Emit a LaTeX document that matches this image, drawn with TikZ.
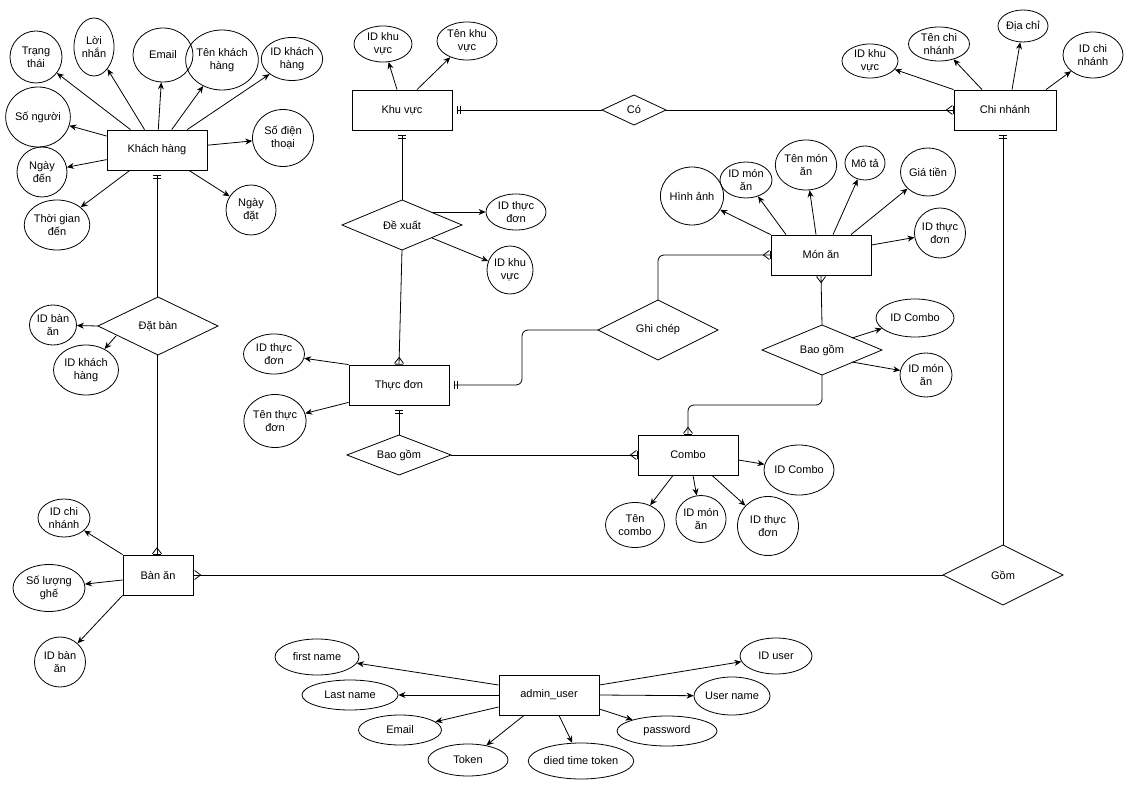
\documentclass[tikz,border=0pt]{standalone}
\usepackage{fontspec}
\setmainfont{Liberation Sans}
\usetikzlibrary{shapes.geometric,arrows.meta}
\begin{document}
\begin{tikzpicture}[x=1pt,y=-1pt,line width=0.8pt,
  every node/.style={font=\fontsize{11}{13}\selectfont,align=center,inner sep=0pt},
  ent/.style={draw,rectangle,minimum width=100pt,minimum height=40pt},
  attr/.style={draw,ellipse},
  atr/.style={-{Stealth[length=7pt,width=6pt]}},
  one/.style={-{Bar[width=8pt,sep=2pt]Bar[width=8pt,sep=5pt]}},
  many/.style={-{Straight Barb[reversed,length=6pt,width=9pt,sep=0pt]Bar[width=8pt]}},
  rc/.style={rounded corners=6pt}]
\useasboundingbox (0,0) rectangle (1135,791);
% entities
\node[ent] (kh) at (157,150) {Khách hàng};
\node[ent] (kv) at (402,110) {Khu vực};
\node[ent,minimum width=102pt] (cn) at (1005,110) {Chi nhánh};
\node[ent] (ma) at (821,255) {Món ăn};
\node[ent] (td) at (399,385) {Thực đơn};
\node[ent] (cb) at (688,455) {Combo};
\node[ent,minimum width=70pt] (ba) at (158,575) {Bàn ăn};
\node[ent] (au) at (549,695) {admin\_user};
% relationships
\node (co) at (634,110) {Có};
\draw (602,110) -- (634,95) -- (666,110) -- (634,125) -- cycle;
\coordinate (co-w) at (602,110); \coordinate (co-e) at (666,110);
\node (dx) at (402,225) {Đề xuất};
\draw (342,225) -- (402,200) -- (462,225) -- (402,250) -- cycle;
\coordinate (dx-n) at (402,200); \coordinate (dx-s) at (402,250);
\coordinate (dx-ne) at (432,212); \coordinate (dx-se) at (432,238);
\node (db) at (158,326) {Đặt bàn};
\draw (98,326) -- (158,297) -- (218,326) -- (158,355) -- cycle;
\coordinate (db-n) at (157,297); \coordinate (db-s) at (157,355); \coordinate (db-w) at (98,326);
\coordinate (db-sw) at (116,336);
\node (gc) at (658,330) {Ghi chép};
\draw (598,330) -- (658,300) -- (718,330) -- (658,360) -- cycle;
\coordinate (gc-n) at (658,300); \coordinate (gc-w) at (598,330);
\node (bg1) at (822,350) {Bao gồm};
\draw (762,350) -- (822,325) -- (882,350) -- (822,375) -- cycle;
\coordinate (bg1-n) at (822,325); \coordinate (bg1-s) at (822,375);
\coordinate (bg1-ne) at (852,338); \coordinate (bg1-se) at (852,362);
\node (bg2) at (399,455) {Bao gồm};
\draw (347,455) -- (399,435) -- (451,455) -- (399,475) -- cycle;
\coordinate (bg2-n) at (399,435); \coordinate (bg2-e) at (451,455);
\node (gm) at (1003,575) {Gồm};
\draw (943,575) -- (1003,545) -- (1063,575) -- (1003,605) -- cycle;
\coordinate (gm-n) at (1003,545); \coordinate (gm-w) at (943,575);
\coordinate (cn-s) at (1003,130); \coordinate (ba-n) at (157,555);
% attributes
\newcommand\attrn[5]{\node[attr,minimum width=#4pt,minimum height=#5pt] (#1) at (#2) {#3};}
\attrn{a1}{36,57}{Trạng\\thái}{52}{52}
\attrn{a2}{94,47}{Lời\\nhắn}{40}{58}
\attrn{a3}{163,55}{Email}{60}{54}
\attrn{a4}{222,60}{Tên khách\\hàng}{60}{60}
\attrn{a5}{292,59}{ID khách\\hàng}{61}{43}
\attrn{a6}{38,117}{Số người}{58}{60}
\attrn{a7}{283,138}{Số điện\\thoại}{61}{57}
\attrn{a8}{42,172}{Ngày\\đến}{50}{50}
\attrn{a9}{57,225}{Thời gian\\đến}{57}{50}
\attrn{a10}{251,210}{Ngày\\đặt}{50}{50}
\foreach \a in {a1,a2,a3,a4,a5,a6,a7,a8,a9,a10}
  \draw[atr] (kh) -- (\a);
\attrn{b1}{383,44}{ID khu\\vực}{58}{36}
\attrn{b2}{467,41}{Tên khu\\vực}{60}{38}
\draw[atr] (kv.north) ++(-5,0) -- (b1);
\draw[atr] (kv.north) ++(15,0) -- (b2);
\attrn{b3}{516,212}{ID thực\\đơn}{60}{36}
\attrn{b4}{510,270}{ID khu\\vực}{46}{48}
\draw[atr] (dx-ne) -- (b3);
\draw[atr] (dx-se) -- (b4);
\attrn{c1}{870,61}{ID khu\\vực}{56}{34}
\attrn{c2}{939,44}{Tên chi\\nhánh}{61}{34}
\attrn{c3}{1023,26}{Địa chỉ}{50}{32}
\attrn{c4}{1093,55}{ID chi\\nhánh}{60}{46}
\draw[atr] (cn.north west) -- (c1);
\draw[atr] (cn.north) ++(-23,0) -- (c2);
\draw[atr] (cn.north) ++(7,0) -- (c3);
\draw[atr] (cn.north) ++(41,0) -- (c4);
\attrn{d1}{692,196}{Hình ảnh}{50}{58}
\attrn{d2}{746,180}{ID món\\ăn}{52}{36}
\attrn{d3}{806,165}{Tên món\\ăn}{48}{50}
\attrn{d4}{865,163}{Mô tả}{40}{34}
\attrn{d5}{928,172}{Giá tiền}{55}{48}
\attrn{d6}{940,233}{ID thực\\đơn}{44}{50}
\draw[atr] (ma.north west) -- (d1);
\draw[atr] (ma.north) ++(-35,0) -- (d2);
\draw[atr] (ma.north) ++(-5,0) -- (d3);
\draw[atr] (ma.north) ++(12,0) -- (d4);
\draw[atr] (ma.north) ++(30,0) -- (d5);
\draw[atr] (ma.east) ++(0,-10) -- (d6);
\attrn{e1}{915,318}{ID Combo}{78}{38}
\attrn{e2}{926,375}{ID món\\ăn}{52}{44}
\draw[atr] (bg1-ne) -- (e1);
\draw[atr] (bg1-se) -- (e2);
\attrn{f1}{274,354}{ID thực\\đơn}{61}{40}
\attrn{f2}{275,421}{Tên thực\\đơn}{53}{53}
\draw[atr] (td.north west) -- (f1);
\draw[atr] (td.south west) ++(0,-3) -- (f2);
\attrn{g1}{799,470}{ID Combo}{62}{50}
\attrn{g2}{635,525}{Tên\\combo}{59}{45}
\attrn{g3}{701,519}{ID món\\ăn}{46}{47}
\attrn{g4}{768,526}{ID thực\\đơn}{61}{59}
\draw[atr] (cb.east) ++(0,5) -- (g1);
\draw[atr] (cb.south) ++(-15,0) -- (g2);
\draw[atr] (cb.south) ++(5,0) -- (g3);
\draw[atr] (cb.south) ++(24,0) -- (g4);
\attrn{h1}{53,325}{ID bàn\\ăn}{47}{40}
\attrn{h2}{86,370}{ID khách\\hàng}{65}{50}
\draw[atr] (db-w) -- (h1);
\draw[atr] (db-sw) -- (h2);
\attrn{i1}{64,518}{ID chi\\nhánh}{52}{38}
\attrn{i2}{49,588}{Số lượng\\ghế}{72}{47}
\attrn{i3}{60,662}{ID bàn\\ăn}{51}{50}
\draw[atr] (ba.north west) -- (i1);
\draw[atr] (ba.west) ++(0,5) -- (i2);
\draw[atr] (ba.south west) -- (i3);
\attrn{j1}{317,657}{first name}{84}{36}
\attrn{j2}{350,695}{Last name}{96}{30}
\attrn{j3}{400,730}{Email}{83}{30}
\attrn{j4}{468,760}{Token}{80}{32}
\attrn{j5}{581,761}{died time token}{89}{36}
\attrn{j6}{776,656}{ID user}{72}{36}
\attrn{j7}{732,696}{User name}{72}{38}
\attrn{j8}{667,731}{password}{100}{30}
\draw[atr] (au.west) ++(0,-10) -- (j1);
\draw[atr] (au.west) -- (j2);
\draw[atr] (au.west) ++(0,12) -- (j3);
\draw[atr] (au.south) ++(-25,0) -- (j4);
\draw[atr] (au.south) ++(10,0) -- (j5);
\draw[atr] (au.east) ++(0,-10) -- (j6);
\draw[atr] (au.east) -- (j7);
\draw[atr] (au.east) ++(0,14) -- (j8);
% relationship connectors
\draw[one] (co-w) -- (kv.east);
\draw[many] (co-e) -- (cn.west);
\draw[one] (dx-n) -- (kv.south);
\draw[many] (dx-s) -- (td.north);
\draw[one,rc] (gc-w) -| (522,385) -- (td.east);
\draw[many,rc] (gc-n) |- (ma.west);
\draw[many] (bg1-n) -- (ma.south);
\draw[many,rc] (bg1-s) |- (688,405) -- (cb.north);
\draw[one] (bg2-n) -- (td.south);
\draw[many] (bg2-e) -- (cb.west);
\draw[one] (db-n) -- (kh.south);
\draw[many] (db-s) -- (ba-n);
\draw[one] (gm-n) -- (cn-s);
\draw[many] (gm-w) -- (ba.east);
\end{tikzpicture}
\end{document}
